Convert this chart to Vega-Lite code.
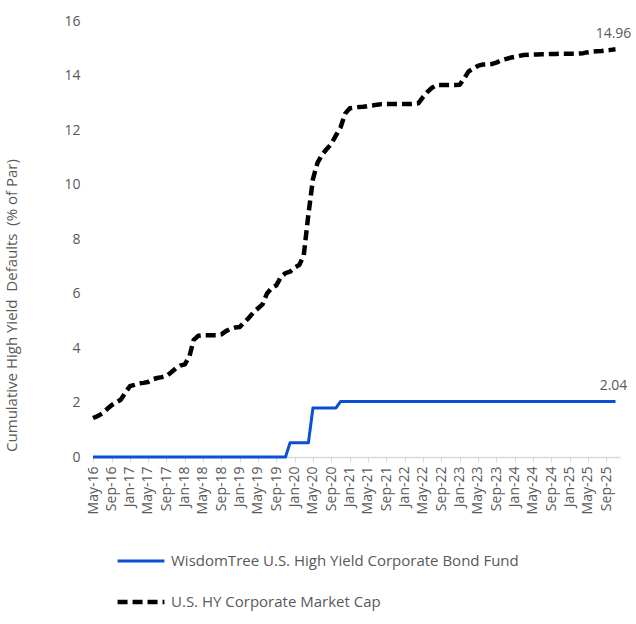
{
  "$schema": "https://vega.github.io/schema/vega-lite/v6.json",
  "autosize": {"type": "none"},
  "width": 527,
  "height": 436,
  "padding": {"left": 93, "top": 21, "right": 16, "bottom": 167},
  "background": "white",
  "config": {
    "font": "Open Sans",
    "view": {"stroke": null},
    "axis": {"labelColor": "#595959", "titleColor": "#595959", "grid": false}
  },
  "data": {
    "values": [
      {"month": "2016-05-01", "fund": 0, "market": 1.43},
      {"month": "2016-06-01", "fund": 0, "market": 1.5},
      {"month": "2016-07-01", "fund": 0, "market": 1.6},
      {"month": "2016-08-01", "fund": 0, "market": 1.75},
      {"month": "2016-09-01", "fund": 0, "market": 1.9},
      {"month": "2016-10-01", "fund": 0, "market": 2.0},
      {"month": "2016-11-01", "fund": 0, "market": 2.1},
      {"month": "2016-12-01", "fund": 0, "market": 2.35},
      {"month": "2017-01-01", "fund": 0, "market": 2.6},
      {"month": "2017-02-01", "fund": 0, "market": 2.65},
      {"month": "2017-03-01", "fund": 0, "market": 2.7},
      {"month": "2017-04-01", "fund": 0, "market": 2.72},
      {"month": "2017-05-01", "fund": 0, "market": 2.75},
      {"month": "2017-06-01", "fund": 0, "market": 2.85},
      {"month": "2017-07-01", "fund": 0, "market": 2.9},
      {"month": "2017-08-01", "fund": 0, "market": 2.93},
      {"month": "2017-09-01", "fund": 0, "market": 2.97},
      {"month": "2017-10-01", "fund": 0, "market": 3.1},
      {"month": "2017-11-01", "fund": 0, "market": 3.25},
      {"month": "2017-12-01", "fund": 0, "market": 3.35},
      {"month": "2018-01-01", "fund": 0, "market": 3.4},
      {"month": "2018-02-01", "fund": 0, "market": 3.7},
      {"month": "2018-03-01", "fund": 0, "market": 4.3},
      {"month": "2018-04-01", "fund": 0, "market": 4.45},
      {"month": "2018-05-01", "fund": 0, "market": 4.47},
      {"month": "2018-06-01", "fund": 0, "market": 4.47},
      {"month": "2018-07-01", "fund": 0, "market": 4.47},
      {"month": "2018-08-01", "fund": 0, "market": 4.47},
      {"month": "2018-09-01", "fund": 0, "market": 4.5},
      {"month": "2018-10-01", "fund": 0, "market": 4.62},
      {"month": "2018-11-01", "fund": 0, "market": 4.7},
      {"month": "2018-12-01", "fund": 0, "market": 4.75},
      {"month": "2019-01-01", "fund": 0, "market": 4.77},
      {"month": "2019-02-01", "fund": 0, "market": 4.95},
      {"month": "2019-03-01", "fund": 0, "market": 5.1},
      {"month": "2019-04-01", "fund": 0, "market": 5.3},
      {"month": "2019-05-01", "fund": 0, "market": 5.45},
      {"month": "2019-06-01", "fund": 0, "market": 5.6},
      {"month": "2019-07-01", "fund": 0, "market": 6.0},
      {"month": "2019-08-01", "fund": 0, "market": 6.2},
      {"month": "2019-09-01", "fund": 0, "market": 6.3},
      {"month": "2019-10-01", "fund": 0, "market": 6.6},
      {"month": "2019-11-01", "fund": 0, "market": 6.75},
      {"month": "2019-12-01", "fund": 0.52, "market": 6.8},
      {"month": "2020-01-01", "fund": 0.52, "market": 6.95},
      {"month": "2020-02-01", "fund": 0.52, "market": 7.05},
      {"month": "2020-03-01", "fund": 0.52, "market": 7.4},
      {"month": "2020-04-01", "fund": 0.52, "market": 8.9},
      {"month": "2020-05-01", "fund": 1.8, "market": 10.2},
      {"month": "2020-06-01", "fund": 1.8, "market": 10.8},
      {"month": "2020-07-01", "fund": 1.8, "market": 11.1},
      {"month": "2020-08-01", "fund": 1.8, "market": 11.3},
      {"month": "2020-09-01", "fund": 1.8, "market": 11.5},
      {"month": "2020-10-01", "fund": 1.8, "market": 11.8},
      {"month": "2020-11-01", "fund": 2.04, "market": 12.1},
      {"month": "2020-12-01", "fund": 2.04, "market": 12.6},
      {"month": "2021-01-01", "fund": 2.04, "market": 12.8},
      {"month": "2021-02-01", "fund": 2.04, "market": 12.82},
      {"month": "2021-03-01", "fund": 2.04, "market": 12.84},
      {"month": "2021-04-01", "fund": 2.04, "market": 12.85},
      {"month": "2021-05-01", "fund": 2.04, "market": 12.88},
      {"month": "2021-06-01", "fund": 2.04, "market": 12.9},
      {"month": "2021-07-01", "fund": 2.04, "market": 12.93},
      {"month": "2021-08-01", "fund": 2.04, "market": 12.95},
      {"month": "2021-09-01", "fund": 2.04, "market": 12.95},
      {"month": "2021-10-01", "fund": 2.04, "market": 12.95},
      {"month": "2021-11-01", "fund": 2.04, "market": 12.95},
      {"month": "2021-12-01", "fund": 2.04, "market": 12.95},
      {"month": "2022-01-01", "fund": 2.04, "market": 12.95},
      {"month": "2022-02-01", "fund": 2.04, "market": 12.95},
      {"month": "2022-03-01", "fund": 2.04, "market": 12.96},
      {"month": "2022-04-01", "fund": 2.04, "market": 12.98},
      {"month": "2022-05-01", "fund": 2.04, "market": 13.2},
      {"month": "2022-06-01", "fund": 2.04, "market": 13.4},
      {"month": "2022-07-01", "fund": 2.04, "market": 13.55},
      {"month": "2022-08-01", "fund": 2.04, "market": 13.65},
      {"month": "2022-09-01", "fund": 2.04, "market": 13.65},
      {"month": "2022-10-01", "fund": 2.04, "market": 13.65},
      {"month": "2022-11-01", "fund": 2.04, "market": 13.65},
      {"month": "2022-12-01", "fund": 2.04, "market": 13.65},
      {"month": "2023-01-01", "fund": 2.04, "market": 13.66},
      {"month": "2023-02-01", "fund": 2.04, "market": 13.9},
      {"month": "2023-03-01", "fund": 2.04, "market": 14.15},
      {"month": "2023-04-01", "fund": 2.04, "market": 14.25},
      {"month": "2023-05-01", "fund": 2.04, "market": 14.35},
      {"month": "2023-06-01", "fund": 2.04, "market": 14.4},
      {"month": "2023-07-01", "fund": 2.04, "market": 14.41},
      {"month": "2023-08-01", "fund": 2.04, "market": 14.42},
      {"month": "2023-09-01", "fund": 2.04, "market": 14.47},
      {"month": "2023-10-01", "fund": 2.04, "market": 14.55},
      {"month": "2023-11-01", "fund": 2.04, "market": 14.6},
      {"month": "2023-12-01", "fund": 2.04, "market": 14.65},
      {"month": "2024-01-01", "fund": 2.04, "market": 14.68},
      {"month": "2024-02-01", "fund": 2.04, "market": 14.72},
      {"month": "2024-03-01", "fund": 2.04, "market": 14.75},
      {"month": "2024-04-01", "fund": 2.04, "market": 14.76},
      {"month": "2024-05-01", "fund": 2.04, "market": 14.77},
      {"month": "2024-06-01", "fund": 2.04, "market": 14.77},
      {"month": "2024-07-01", "fund": 2.04, "market": 14.78},
      {"month": "2024-08-01", "fund": 2.04, "market": 14.78},
      {"month": "2024-09-01", "fund": 2.04, "market": 14.79},
      {"month": "2024-10-01", "fund": 2.04, "market": 14.79},
      {"month": "2024-11-01", "fund": 2.04, "market": 14.8},
      {"month": "2024-12-01", "fund": 2.04, "market": 14.8},
      {"month": "2025-01-01", "fund": 2.04, "market": 14.8},
      {"month": "2025-02-01", "fund": 2.04, "market": 14.8},
      {"month": "2025-03-01", "fund": 2.04, "market": 14.81},
      {"month": "2025-04-01", "fund": 2.04, "market": 14.82},
      {"month": "2025-05-01", "fund": 2.04, "market": 14.85},
      {"month": "2025-06-01", "fund": 2.04, "market": 14.88},
      {"month": "2025-07-01", "fund": 2.04, "market": 14.89},
      {"month": "2025-08-01", "fund": 2.04, "market": 14.9},
      {"month": "2025-09-01", "fund": 2.04, "market": 14.92},
      {"month": "2025-10-01", "fund": 2.04, "market": 14.94},
      {"month": "2025-11-01", "fund": 2.04, "market": 14.96}
    ]
  },
  "transform": [
    {"fold": ["fund", "market"], "as": ["series", "value"]}
  ],
  "encoding": {
    "x": {
      "field": "month",
      "type": "temporal",
      "scale": {
        "type": "utc",
        "domain": [
          {"year": 2016, "month": 5, "date": 1, "utc": true},
          {"year": 2025, "month": 12, "date": 1, "utc": true}
        ]
      },
      "axis": {
        "title": null,
        "format": "%b-%y",
        "tickCount": {"interval": "month", "step": 4},
        "labelAngle": -90,
        "labelFontSize": 14,
        "labelPadding": 4,
        "labelFlush": false,
        "labelOverlap": false,
        "domainColor": "#d9d9d9",
        "domainWidth": 1.5,
        "tickColor": "#d9d9d9",
        "tickSize": 5
      }
    },
    "y": {
      "field": "value",
      "type": "quantitative",
      "scale": {"domain": [0, 16], "nice": false},
      "axis": {
        "title": "Cumulative High Yield\u00a0 Defaults\u00a0 (% of Par)",
        "titleFontSize": 15,
        "titleFontWeight": "normal",
        "titleAngle": -90,
        "titleX": -74,
        "titleY": 284,
        "titleAlign": "center",
        "titleBaseline": "bottom",
        "values": [0, 2, 4, 6, 8, 10, 12, 14, 16],
        "labelFontSize": 14,
        "labelPadding": 13,
        "domain": false,
        "ticks": false
      }
    }
  },
  "layer": [
    {
      "mark": {"type": "line", "strokeJoin": "round"},
      "encoding": {
        "color": {
          "field": "series",
          "type": "nominal",
          "scale": {"domain": ["fund", "market"], "range": ["#0b50d4", "#000000"]},
          "legend": {
            "title": null,
            "orient": "none",
            "legendX": 22,
            "legendY": 515,
            "direction": "vertical",
            "symbolType": "stroke",
            "symbolSize": 2200,
            "symbolStrokeWidth": 4,
            "labelFontSize": 15,
            "labelColor": "#595959",
            "labelOffset": 4,
            "labelLimit": 500,
            "rowPadding": 7,
            "labelExpr": "datum.value == 'fund' ? 'WisdomTree U.S. High Yield Corporate Bond Fund' : 'U.S. HY Corporate Market Cap'"
          }
        },
        "strokeDash": {
          "field": "series",
          "type": "nominal",
          "scale": {"domain": ["fund", "market"], "range": [[1, 0], [10, 5]]}
        },
        "strokeWidth": {
          "field": "series",
          "type": "nominal",
          "scale": {"domain": ["fund", "market"], "range": [3, 4.5]},
          "legend": null
        }
      }
    },
    {
      "transform": [{"filter": "utcyear(datum.month) == 2025 && utcmonth(datum.month) == 10"}],
      "mark": {"type": "text", "baseline": "bottom", "align": "center", "dy": -8, "dx": -2, "fontSize": 14, "color": "#595959"},
      "encoding": {
        "text": {"field": "value", "type": "quantitative", "format": ".2f"}
      }
    }
  ]
}
